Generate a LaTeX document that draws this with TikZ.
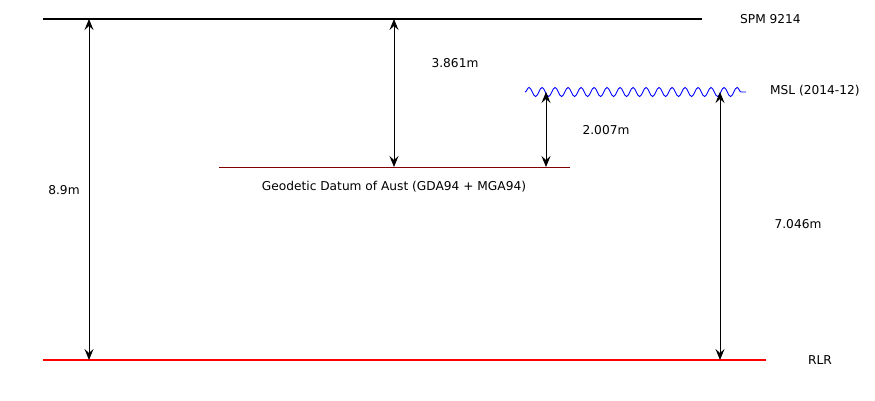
\documentclass[tikz,border=0pt]{standalone}
\usepackage{fontspec}
\setmainfont{DejaVu Sans}
\usetikzlibrary{decorations.pathmorphing,arrows.meta}
\begin{document}
\begin{tikzpicture}[x=1pt,y=-1pt,
  lbl/.style={font=\fontsize{12.2}{14}\selectfont,inner sep=0pt},
  dim/.style={{Stealth[length=11pt,width=9pt,inset=4pt]}-{Stealth[length=11pt,width=9pt,inset=4pt]},line width=1pt}]
\useasboundingbox (0,0) rectangle (875,400);
\coordinate (s1) at (43,19); \coordinate (s2) at (702,19);
\draw[line width=2pt] (s1) -- (s2);
\node[lbl,anchor=west] (spm) at (740,19) {SPM 9214};
\coordinate (r1) at (43,360); \coordinate (r2) at (766,360);
\draw[red,line width=2pt] (r1) -- (r2);
\node[lbl,anchor=west] (rlr) at (808,360) {RLR};
\coordinate (g1) at (219,167); \coordinate (g2) at (570,167);
\draw[red!50!black,line width=0.8pt] (g1) -- (g2);
\node[lbl] (gda) at (394,187) {Geodetic Datum of Aust (GDA94 + MGA94)};
\coordinate (m1) at (525,92); \coordinate (m2) at (746,92);
\draw[blue,line width=0.9pt,decorate,decoration={snake,segment length=13pt,amplitude=4.5pt}] (m1) -- (m2);
\node[lbl,anchor=west] (msl) at (770,91) {MSL (2014-12)};
\coordinate (a1) at (89,19); \coordinate (a2) at (89,360);
\draw[dim] (a1) -- (a2);
\node[lbl] (d1) at (64,190) {8.9m};
\coordinate (b1) at (394,19); \coordinate (b2) at (394,167);
\draw[dim] (b1) -- (b2);
\node[lbl] (d2) at (455,63) {3.861m};
\coordinate (c1) at (546,92); \coordinate (c2) at (546,167);
\draw[dim] (c1) -- (c2);
\node[lbl] (d3) at (606,130) {2.007m};
\coordinate (e1) at (720,92); \coordinate (e2) at (720,360);
\draw[dim] (e1) -- (e2);
\node[lbl] (d4) at (798,224) {7.046m};
\end{tikzpicture}
\end{document}
